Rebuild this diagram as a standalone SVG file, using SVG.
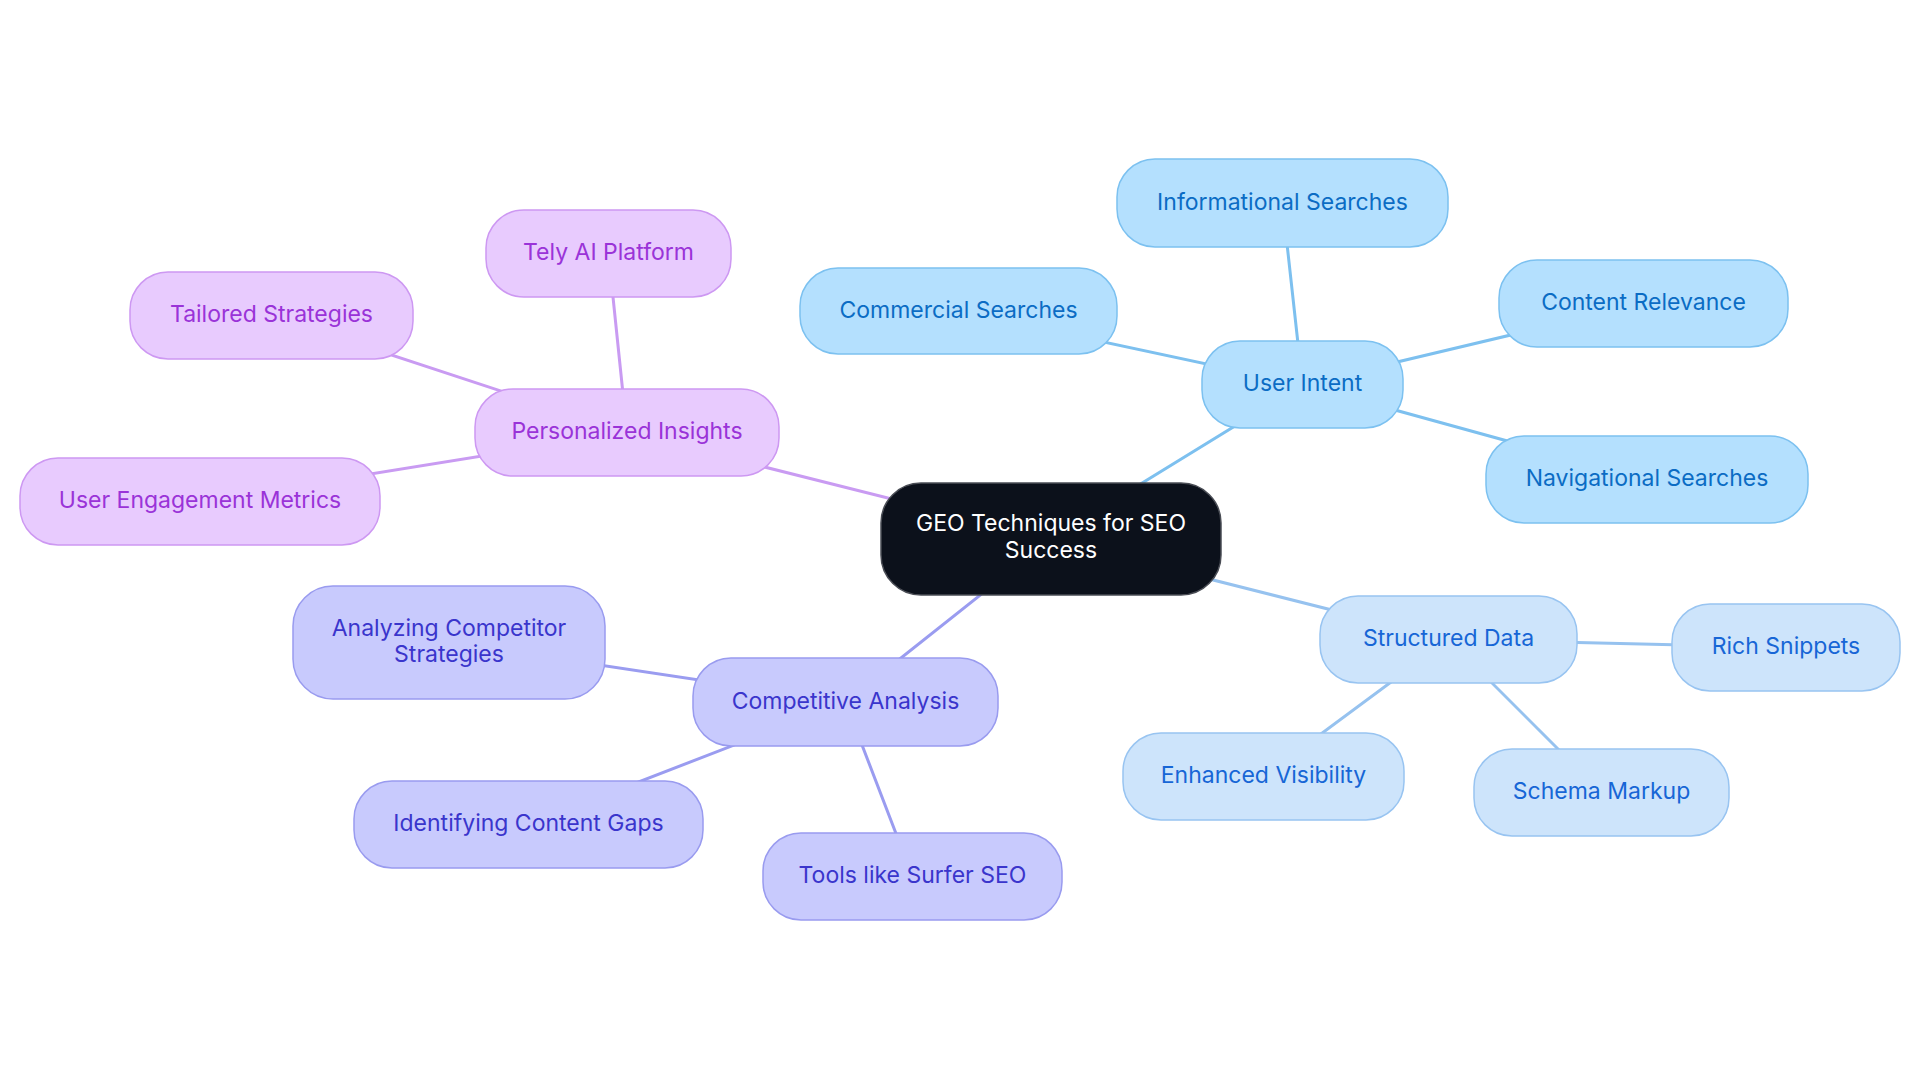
<svg xmlns="http://www.w3.org/2000/svg" width="1920" height="1083" viewBox="0 0 1920 1083">
<style>
text{font-family:Inter,"Noto Sans","Liberation Sans",sans-serif;font-size:23px;text-anchor:middle}
.e{stroke-width:3;fill:none;stroke-linecap:round}
.b rect{fill:#b4e0fe;stroke:#7cc1f0;stroke-width:1.5}
.b text{fill:#0b6cc4}
.s rect{fill:#cde4fb;stroke:#98c4f1;stroke-width:1.5}
.s text{fill:#1766d6}
.c rect{fill:#c8cafd;stroke:#999bef;stroke-width:1.5}
.c text{fill:#3a35cc}
.p rect{fill:#e8cbfe;stroke:#cd98f2;stroke-width:1.5}
.p text{fill:#9a33d8}
</style>
<rect width="1920" height="1083" fill="#ffffff"/>
<g id="connectors">
<line class="e" stroke="#7dc0ef" x1="1051" y1="539" x2="1302.5" y2="384.5"/>
<line class="e" stroke="#96c2ef" x1="1051" y1="539" x2="1448.5" y2="639.5"/>
<line class="e" stroke="#9a9cf0" x1="1051" y1="539" x2="845.5" y2="702"/>
<line class="e" stroke="#c99bf2" x1="1051" y1="539" x2="627" y2="432.5"/>
<line class="e" stroke="#7dc0ef" x1="1302.5" y1="384.5" x2="1282.5" y2="203"/>
<line class="e" stroke="#7dc0ef" x1="1302.5" y1="384.5" x2="958.5" y2="311"/>
<line class="e" stroke="#7dc0ef" x1="1302.5" y1="384.5" x2="1643.5" y2="303.5"/>
<line class="e" stroke="#7dc0ef" x1="1302.5" y1="384.5" x2="1647" y2="479.5"/>
<line class="e" stroke="#96c2ef" x1="1448.5" y1="639.5" x2="1786" y2="647.5"/>
<line class="e" stroke="#96c2ef" x1="1448.5" y1="639.5" x2="1263.5" y2="776.5"/>
<line class="e" stroke="#96c2ef" x1="1448.5" y1="639.5" x2="1601.5" y2="792.5"/>
<line class="e" stroke="#9a9cf0" x1="845.5" y1="702" x2="449" y2="642.5"/>
<line class="e" stroke="#9a9cf0" x1="845.5" y1="702" x2="528.5" y2="824.5"/>
<line class="e" stroke="#9a9cf0" x1="845.5" y1="702" x2="912.5" y2="876.5"/>
<line class="e" stroke="#c99bf2" x1="627" y1="432.5" x2="608.5" y2="253.5"/>
<line class="e" stroke="#c99bf2" x1="627" y1="432.5" x2="271.5" y2="315.5"/>
<line class="e" stroke="#c99bf2" x1="627" y1="432.5" x2="200" y2="501.5"/>
</g>
<g id="center">
<rect x="881" y="483" width="340" height="112" rx="40" fill="#0c111b" stroke="#4a4d55" stroke-width="1.5"/>
<text x="1051" y="531" fill="#ffffff">GEO Techniques for SEO</text>
<text x="1051" y="558" fill="#ffffff">Success</text>
</g>
<g id="user-intent" class="b"><rect x="1202" y="341" width="201" height="87" rx="38"/><text x="1302.5" y="391">User Intent</text></g>
<g id="informational-searches" class="b"><rect x="1117" y="159" width="331" height="88" rx="38"/><text x="1282.5" y="209.5">Informational Searches</text></g>
<g id="commercial-searches" class="b"><rect x="800" y="268" width="317" height="86" rx="38"/><text x="958.5" y="317.5">Commercial Searches</text></g>
<g id="content-relevance" class="b"><rect x="1499" y="260" width="289" height="87" rx="38"/><text x="1643.5" y="310">Content Relevance</text></g>
<g id="navigational-searches" class="b"><rect x="1486" y="436" width="322" height="87" rx="38"/><text x="1647" y="486">Navigational Searches</text></g>
<g id="structured-data" class="s"><rect x="1320" y="596" width="257" height="87" rx="38"/><text x="1448.5" y="646">Structured Data</text></g>
<g id="rich-snippets" class="s"><rect x="1672" y="604" width="228" height="87" rx="38"/><text x="1786" y="654">Rich Snippets</text></g>
<g id="enhanced-visibility" class="s"><rect x="1123" y="733" width="281" height="87" rx="38"/><text x="1263.5" y="783">Enhanced Visibility</text></g>
<g id="schema-markup" class="s"><rect x="1474" y="749" width="255" height="87" rx="38"/><text x="1601.5" y="799">Schema Markup</text></g>
<g id="competitive-analysis" class="c"><rect x="693" y="658" width="305" height="88" rx="38"/><text x="845.5" y="708.5">Competitive Analysis</text></g>
<g id="analyzing-competitor-strategies" class="c"><rect x="293" y="586" width="312" height="113" rx="40"/><text x="449" y="636">Analyzing Competitor</text><text x="449" y="662">Strategies</text></g>
<g id="identifying-content-gaps" class="c"><rect x="354" y="781" width="349" height="87" rx="38"/><text x="528.5" y="831">Identifying Content Gaps</text></g>
<g id="tools-like-surfer-seo" class="c"><rect x="763" y="833" width="299" height="87" rx="38"/><text x="912.5" y="883">Tools like Surfer SEO</text></g>
<g id="personalized-insights" class="p"><rect x="475" y="389" width="304" height="87" rx="38"/><text x="627" y="439">Personalized Insights</text></g>
<g id="tely-ai-platform" class="p"><rect x="486" y="210" width="245" height="87" rx="38"/><text x="608.5" y="260">Tely AI Platform</text></g>
<g id="tailored-strategies" class="p"><rect x="130" y="272" width="283" height="87" rx="38"/><text x="271.5" y="322">Tailored Strategies</text></g>
<g id="user-engagement-metrics" class="p"><rect x="20" y="458" width="360" height="87" rx="38"/><text x="200" y="508">User Engagement Metrics</text></g>
</svg>
